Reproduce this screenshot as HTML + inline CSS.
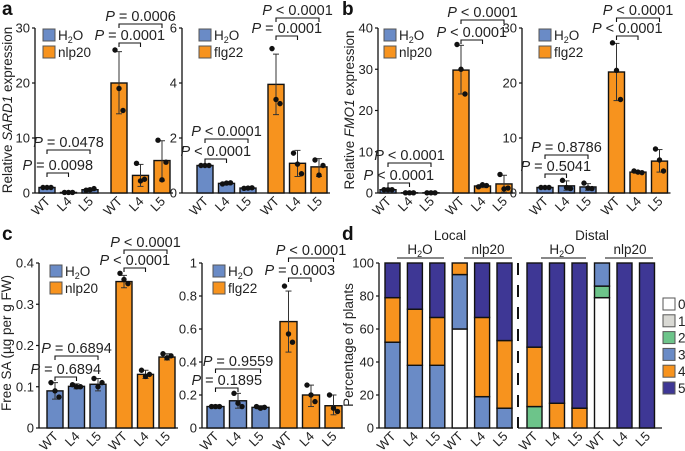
<!DOCTYPE html>
<html><head><meta charset="utf-8">
<style>
html,body{margin:0;padding:0;background:#fff;}
svg{display:block;font-family:"Liberation Sans",Arial,sans-serif;}
</style></head>
<body>
<svg id="fig" width="685" height="451" viewBox="0 0 685 451" xmlns="http://www.w3.org/2000/svg"></svg>
<script>
const BLUE='#6a8bc6', ORANGE='#f7931e', PURPLE='#3e3795', GREEN='#6dc48a';
const categories=['WT','L4','L5','WT','L4','L5'];

// Panel a left (SARD1, nlp20)
const aLeftMeans=[1,0.1,0.6,20,3.2,5.9];
const aLeftPts=[[1,1,1],[0.1,0.1,0.1],[0.5,0.6,0.8],[26,19,15],[5.4,2.2,2.5],[9.6,2.4,5.6]];
const aLeftErr=[[0.9,1.1],[0.05,0.15],[0.4,0.85],[14.4,25.7],[1.2,5.2],[2.2,9.5]];
const aLeftTicks=[0,10,20,30];
// Panel a right (SARD1, flg22)
const aRightMeans=[1.0,0.35,0.18,3.95,1.08,0.95];
const aRightPts=[[1,1,1],[0.33,0.36,0.37],[0.17,0.18,0.19],[5.25,3.4,3.25],[1.45,1.05,0.7],[1.2,0.65,1.0]];
const aRightErr=[[0.97,1.03],[0.3,0.4],[0.15,0.21],[2.85,5.05],[0.6,1.55],[0.6,1.25]];
const aRightTicks=[0,2,4,6];
// Panel b left (FMO1, nlp20)
const bLeftMeans=[0.8,0.05,0.05,29.8,1.7,2.2];
const bLeftPts=[[0.8,0.8,0.8],[0.05,0.05,0.05],[0.05,0.05,0.05],[36,30,24],[1.5,2,1.8],[4.5,1,1.2]];
const bLeftErr=[[0.7,0.9],[0,0.1],[0,0.1],[24,35.8],[1.3,2.1],[0.2,4.3]];
const bLeftTicks=[0,10,20,30,40];
// Panel b right (FMO1, flg22)
const bRightMeans=[1.0,1.3,1.1,22,3.8,5.8];
const bRightPts=[[1,1,1],[2.3,1,0.8],[1.8,0.9,0.8],[27.3,22.3,17],[4,3.8,3.7],[8,6,4]];
const bRightErr=[[0.9,1.1],[0.5,2.2],[0.5,1.7],[16.8,27.2],[3.6,4.0],[3.8,7.9]];
const bRightTicks=[0,10,20,30];
// Panel c left (Free SA, nlp20)
const cLeftMeans=[0.09,0.101,0.106,0.355,0.13,0.172];
const cLeftPts=[[0.11,0.09,0.075],[0.105,0.1,0.1],[0.12,0.1,0.11],[0.375,0.36,0.35],[0.14,0.125,0.13],[0.18,0.17,0.175]];
const cLeftErr=[[0.07,0.11],[0.095,0.107],[0.09,0.12],[0.34,0.37],[0.12,0.14],[0.165,0.18]];
const cLeftTicks=[0,0.1,0.2,0.3,0.4];
// Panel c right (Free SA, flg22)
const cRightMeans=[0.13,0.165,0.125,0.645,0.2,0.135];
const cRightPts=[[0.13,0.13,0.13],[0.21,0.15,0.13],[0.13,0.12,0.125],[0.86,0.57,0.52],[0.26,0.2,0.16],[0.2,0.12,0.1]];
const cRightErr=[[0.12,0.14],[0.12,0.21],[0.115,0.135],[0.46,0.83],[0.13,0.26],[0.08,0.2]];
const cRightTicks=[0,0.2,0.4,0.6,0.8,1.0];
// Panel d stacked (score classes 0..5)
const dClasses=['0','1','2','3','4','5'];
const dColors=['#ffffff','#d9d9d4',GREEN,BLUE,ORANGE,PURPLE];
const dLocal=[[0,0,0,52,27,21],[0,0,0,38,34,28],[0,0,0,38,29,33],[60,0,0,33,7,0],[0,0,0,19,48,33],[0,0,0,12,41,47]];
const dDistal=[[0,0,13,0,36,51],[0,0,0,0,15,85],[0,0,0,0,12,88],[79,0,7,14,0,0],[0,0,0,0,0,100],[0,0,0,0,0,100]];
const dTicks=[0,20,40,60,80,100];

const svg=document.getElementById('fig');
const NS='http://www.w3.org/2000/svg';
function mk(tag,attrs,parent){const e=document.createElementNS(NS,tag);for(const k in attrs)e.setAttribute(k,attrs[k]);(parent||svg).appendChild(e);return e;}
function txt(s,attrs,parent){const e=mk('text',attrs,parent);e.textContent=s;return e;}

function barPanel(p){
  const g=mk('g',{});
  
  
  const y=v=>p.y0-(v/p.max)*(p.y0-p.yTop);
  const bx=i=>p.ax+p.pad+i*p.pitch+(i>=3?p.gap:0);
  const cx=i=>bx(i)+p.bw/2;
  const ax=mk('line',{x1:p.ax,y1:p.yTop,x2:p.ax,y2:p.y0,stroke:'#111','stroke-width':1.3},g);
  
  
  const bl=mk('line',{x1:p.ax,y1:p.y0,x2:bx(5)+p.bw+3,y2:p.y0,stroke:'#111','stroke-width':1.3},g);
  
  
  p.ticks.forEach(t=>{
    mk('line',{x1:p.ax-3,x2:p.ax,y1:y(t),y2:y(t),stroke:'#111','stroke-width':1.2},g);
    const tl=txt(String(t),{x:p.ax-5,y:y(t)+4.5,'text-anchor':'end','font-size':13,fill:'#222'},g);
    
    
  });
  p.means.forEach((m,i)=>{
    const r=mk('rect',{x:bx(i),y:y(m),width:p.bw,height:p.y0-y(m),fill:i<3?BLUE:ORANGE,stroke:'#111','stroke-width':1.4},g);
    
    
    const e=p.err[i];
    mk('line',{x1:cx(i),x2:cx(i),y1:y(e[0]),y2:y(e[1]),stroke:'#333','stroke-width':1},g);
    mk('line',{x1:cx(i)-3,x2:cx(i)+3,y1:y(e[0]),y2:y(e[0]),stroke:'#333','stroke-width':1},g);
    mk('line',{x1:cx(i)-3,x2:cx(i)+3,y1:y(e[1]),y2:y(e[1]),stroke:'#333','stroke-width':1},g);
    p.pts[i].forEach((v,k)=>{
      const c=mk('circle',{cx:cx(i)+(k-1)*4,cy:y(v),r:2.7,fill:'#111'},g);
      
      
    });
    const xl=txt(categories[i],{transform:`translate(${cx(i)+4},${p.y0+9}) rotate(-45)`,'text-anchor':'end','font-size':13,fill:'#222'},g);
    
    
  });
  p.brackets.forEach(b=>{
    const x1=cx(b[0]),x2=cx(b[1]),yy=b[2];
    mk('path',{d:`M${x1} ${yy+4}V${yy}H${x2}V${yy+4}`,fill:'none',stroke:'#111','stroke-width':1.1},g);
    const t=mk('text',{x:(x1+x2)/2,y:yy-3,'text-anchor':'middle','font-size':14.5,fill:'#222'},g);
    
    
    const it=document.createElementNS(NS,'tspan');it.setAttribute('font-style','italic');it.textContent='P';t.appendChild(it);
    t.appendChild(document.createTextNode(' '+b[3]));
  });
  const lg=mk('g',{},g);
  
  
  [[BLUE,'H2O'],[ORANGE,p.treat]].forEach((L,k)=>{
    mk('rect',{x:p.lx,y:p.ly+k*17,width:12,height:12,fill:L[0],stroke:'#555','stroke-width':1},lg);
    const t=txt('',{x:p.lx+15,y:p.ly+k*17+11,'font-size':13.5,fill:'#222'},lg);
    if(L[1]==='H2O'){t.innerHTML='H<tspan font-size="9" dy="3">2</tspan><tspan dy="-3">O</tspan>';}
    else t.textContent=L[1];
  });
}

barPanel({name:'panel-a-nlp20',ax:35,y0:193,yTop:28,max:30,ticks:aLeftTicks,pad:4,pitch:21.5,gap:7.5,bw:16,means:aLeftMeans,pts:aLeftPts,err:aLeftErr,treat:'nlp20',lx:43,ly:29,
  brackets:[[3,5,24,'= 0.0006'],[3,4,43,'= 0.0001'],[0,2,150,'= 0.0478'],[0,1,173,'= 0.0098']]});
barPanel({name:'panel-a-flg22',ax:182,y0:193,yTop:28,max:6,ticks:aRightTicks,pad:15,pitch:21.5,gap:6.5,bw:16,means:aRightMeans,pts:aRightPts,err:aRightErr,treat:'flg22',lx:199,ly:29,
  brackets:[[3,5,18,'< 0.0001'],[3,4,36,'= 0.0001'],[0,2,139,'< 0.0001'],[0,1,159,'< 0.0001']]});
barPanel({name:'panel-b-nlp20',ax:378,y0:193,yTop:28,max:40,ticks:bLeftTicks,pad:2,pitch:21.5,gap:8.5,bw:16,means:bLeftMeans,pts:bLeftPts,err:bLeftErr,treat:'nlp20',lx:384,ly:29,
  brackets:[[3,5,20,'< 0.0001'],[3,4,40,'< 0.0001'],[0,2,163,'< 0.0001'],[0,1,183,'< 0.0001']]});
barPanel({name:'panel-b-flg22',ax:522,y0:193,yTop:28,max:30,ticks:bRightTicks,pad:15,pitch:21.5,gap:7,bw:16,means:bRightMeans,pts:bRightPts,err:bRightErr,treat:'flg22',lx:539,ly:29,
  brackets:[[3,5,18,'< 0.0001'],[3,4,36,'< 0.0001'],[0,2,155,'= 0.8786'],[0,1,174,'= 0.5041']]});
barPanel({name:'panel-c-nlp20',ax:39,y0:428,yTop:263,max:0.4,ticks:cLeftTicks,pad:8,pitch:21.5,gap:4.5,bw:16,means:cLeftMeans,pts:cLeftPts,err:cLeftErr,treat:'nlp20',lx:50,ly:265,
  brackets:[[3,5,250,'< 0.0001'],[3,4,268,'< 0.0001'],[0,2,356,'= 0.6894'],[0,1,377,'= 0.6894']]});
barPanel({name:'panel-c-flg22',ax:202,y0:428,yTop:263,max:1.0,ticks:cRightTicks,pad:5,pitch:22.5,gap:5.5,bw:17,means:cRightMeans,pts:cRightPts,err:cRightErr,treat:'flg22',lx:213,ly:265,
  brackets:[[3,5,258,'< 0.0001'],[3,4,278,'= 0.0003'],[0,2,369,'= 0.9559'],[0,1,388,'= 0.1895']]});

(function(){
  const g=mk('g',{});
  
  
  const y0=428,yTop=263,max=100;
  const y=v=>y0-(v/max)*(y0-yTop);
  const axL=379, axD=518;
  const lx=i=>385+i*22.4;
  const dx=i=>527+i*22.5;
  const bw=15;
  mk('line',{x1:axL,y1:yTop,x2:axL,y2:y0,stroke:'#111','stroke-width':1.3},g);
  mk('line',{x1:axD,y1:yTop,x2:axD,y2:y0,stroke:'#111','stroke-width':2,'stroke-dasharray':'12 10'},g);
  mk('line',{x1:axL,y1:y0,x2:513,y2:y0,stroke:'#111','stroke-width':1.3},g);
  mk('line',{x1:axD,y1:y0,x2:662,y2:y0,stroke:'#111','stroke-width':1.3},g);
  dTicks.forEach(t=>{
    mk('line',{x1:axL-3,x2:axL,y1:y(t),y2:y(t),stroke:'#111','stroke-width':1.2},g);
    const tl=txt(String(t),{x:axL-5,y:y(t)+4.5,'text-anchor':'end','font-size':13,fill:'#222'},g);
    
    
  });
  function stack(data,xf,grp){
    data.forEach((vals,i)=>{
      let cum=0;
      vals.forEach((v,k)=>{
        if(v<=0)return;
        const r=mk('rect',{x:xf(i),y:y(cum+v),width:bw,height:y(cum)-y(cum+v),fill:dColors[k],stroke:'#111','stroke-width':1.4},g);
        
        
        cum+=v;
      });
      const xl=txt(categories[i],{transform:`translate(${xf(i)+bw/2+4},${y0+9}) rotate(-45)`,'text-anchor':'end','font-size':13,fill:'#222'},g);
      
      
    });
  }
  stack(dLocal,lx,'local');
  stack(dDistal,dx,'distal');
  function hdr(s,x,yy){const t=txt(s,{x:x,y:yy,'text-anchor':'middle','font-size':13.5,fill:'#222'},g);return t;}
  hdr('Local',450,240);
  hdr('Distal',592,240);
  const h1=hdr('',420,254);h1.innerHTML='H<tspan font-size="9" dy="3">2</tspan><tspan dy="-3">O</tspan>';
  const h2=hdr('',562,254);h2.innerHTML='H<tspan font-size="9" dy="3">2</tspan><tspan dy="-3">O</tspan>';
  hdr('nlp20',488,254);hdr('nlp20',630,254);
  [[397,444],[464,512],[541,586],[605,653]].forEach(s=>mk('line',{x1:s[0],x2:s[1],y1:258,y2:258,stroke:'#111','stroke-width':1.1},g));
  const lg=mk('g',{},g);
  
  
  dClasses.forEach((c,k)=>{
    const yy=298+k*16.8;
    mk('rect',{x:663,y:yy,width:12,height:12,fill:dColors[k],stroke:'#555','stroke-width':1},lg);
    txt(c,{x:678,y:yy+11,'font-size':13.5,fill:'#222'},lg);
  });
})();

function ytitle(html,x,y,name){const t=mk('text',{transform:`translate(${x},${y}) rotate(-90)`,'text-anchor':'middle','font-size':13.5,fill:'#222'});t.innerHTML=html;}
ytitle('Relative <tspan font-style="italic">SARD1</tspan> expression',12,110,'y-axis-title-a');
ytitle('Relative <tspan font-style="italic">FMO1</tspan> expression',354,110,'y-axis-title-b');
ytitle('Free SA (µg per g FW)',11,343,'y-axis-title-c');
ytitle('Percentage of plants',353,345,'y-axis-title-d');
[['a',2,15],['b',342,15],['c',2,240],['d',342,240]].forEach(L=>{const t=txt(L[0],{x:L[1],y:L[2],'font-size':19,'font-weight':'bold',fill:'#111'});});
</script>
</body></html>
